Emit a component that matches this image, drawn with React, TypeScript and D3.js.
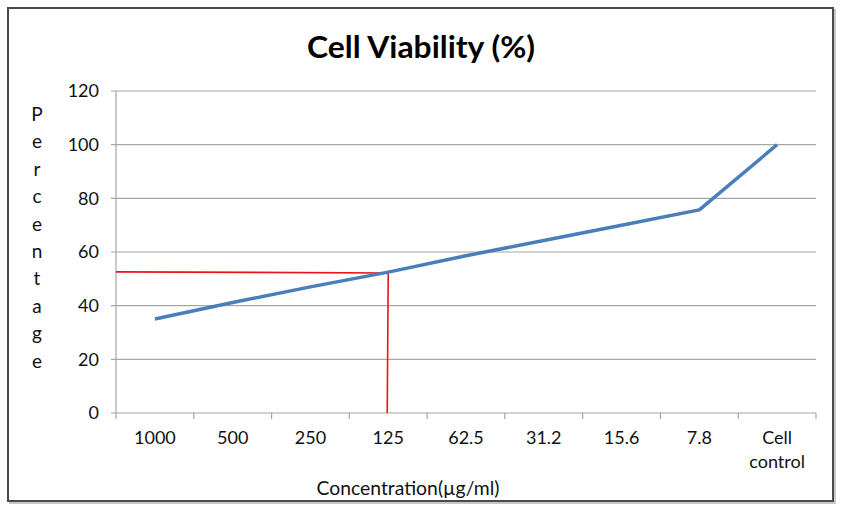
import React from 'react';
import * as d3 from 'd3';

// concentrations (µg/ml) and measured viability in %
const categories = ['1000', '500', '250', '125', '62.5', '31.2', '15.6', '7.8', 'Cell control'];
const viability = [35, 41.2, 47, 52.5, 58.6, 64.3, 70, 75.7, 100];
const yTicks = [0, 20, 40, 60, 80, 100, 120];

// IC50 guide
const ic50Category = '125';
const ic50Value = 52.6;

const W = 842;
const H = 508;
const FONT = 'Lato, "Open Sans", sans-serif';

export default function App() {
  const margin = { top: 91, right: 26, bottom: 95, left: 116 };
  const width = W - margin.left - margin.right;
  const height = H - margin.top - margin.bottom;

  const x = d3.scaleBand().domain(categories).range([0, width]).padding(0);
  const y = d3.scaleLinear().domain([0, 120]).range([height, 0]);

  const cx = (c: string) => (x(c) as number) + x.bandwidth() / 2;

  const line = d3
    .line<number>()
    .x((d, i) => cx(categories[i]))
    .y((d) => y(d));

  const boundaries = categories.map((c) => x(c) as number).concat([width]);
  const icX = cx(ic50Category);

  return (
    <svg width={W} height={H} style={{ position: 'absolute', left: 0, top: 0, background: '#fff' }}>
      {/* frame with a small shadow */}
      <rect x={10} y={10} width={825} height={493} fill="none" stroke="#c8c8c8" strokeWidth={2} />
      <rect x={8} y={8} width={825} height={493} fill="#fff" stroke="#4a4a4a" strokeWidth={2} />

      <text x={421} y={58} textAnchor="middle" fontFamily={FONT} fontWeight="bold" fontSize={30}
        textLength={228} lengthAdjust="spacingAndGlyphs" fill="#000">
        Cell Viability (%)
      </text>

      <g transform={`translate(${margin.left},${margin.top})`}>
        {/* gridlines and y ticks */}
        {yTicks.map((t) => (
          <g key={t} transform={`translate(0,${y(t)})`}>
            <line x1={-5} x2={width} stroke="#a6a6a6" strokeWidth={1.2} />
            <text x={-17} dy="0.35em" textAnchor="end" fontFamily={FONT} fontSize={18} fill="#111">
              {t}
            </text>
          </g>
        ))}
        <line x1={0} x2={0} y1={0} y2={height} stroke="#a6a6a6" strokeWidth={1.2} />

        {/* x ticks */}
        {boundaries.map((b, i) => (
          <line key={i} x1={b} x2={b} y1={height} y2={height + 6} stroke="#a6a6a6" strokeWidth={1.2} />
        ))}
        {categories.map((c) => {
          const parts = c.split(' ');
          return (
            <text key={c} x={cx(c)} y={height + 31} textAnchor="middle" fontFamily={FONT} fontSize={18} fill="#111">
              {parts.map((p, i) => (
                <tspan key={i} x={cx(c)} dy={i === 0 ? 0 : 24}>{p}</tspan>
              ))}
            </text>
          );
        })}

        {/* IC50 guide */}
        <polyline
          points={`0,${y(ic50Value)} ${icX},${y(ic50Value - 0.4)} ${icX - 1},${y(0)}`}
          fill="none" stroke="#e8141c" strokeWidth={1.6} />

        <path d={line(viability) as string} fill="none" stroke="#4a7ebb" strokeWidth={3.5} strokeLinejoin="round" />
      </g>

      <text x={408} y={495} textAnchor="middle" fontFamily={FONT} fontSize={19} fill="#111"
        textLength={183} lengthAdjust="spacingAndGlyphs">
        Concentration(µg/ml)
      </text>

      {'Percentage'.split('').map((ch, i) => (
        <text key={i} x={37} y={121 + i * 27.4} textAnchor="middle" fontFamily={FONT} fontSize={19} fill="#111">
          {ch}
        </text>
      ))}
    </svg>
  );
}
